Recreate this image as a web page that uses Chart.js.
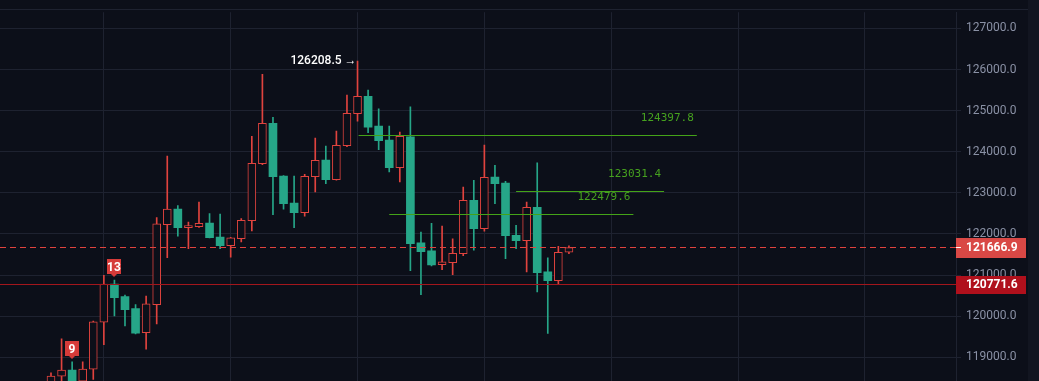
<!DOCTYPE html>
<html>
<head>
<meta charset="utf-8">
<script src="https://cdn.jsdelivr.net/npm/chart.js@4.4.0/dist/chart.umd.min.js"></script>
<style>
  html, body { margin: 0; padding: 0; background: #0c0f19; overflow: hidden; }
  #wrap { position: relative; width: 1039px; height: 381px; overflow: hidden; }
  canvas { display: block; }
  #topline { position: absolute; left: 0; top: 9px; width: 1039px; height: 1px; background: #1e2230; }
  #scroll { position: absolute; right: 0; top: 0; width: 11px; height: 381px; background: #121520; }
</style>
</head>
<body>
<div id="wrap">
  <canvas id="chart" width="1039" height="404"></canvas>
  <div id="topline"></div>
  <div id="scroll"></div>
</div>
<script>
// candles (index on the x axis), prices
var openP  = [118250, 118540, 118686, 118418, 118710, 119853, 120777, 120475, 120184, 119600,
              120281, 122226, 122607, 122153, 122177, 122267, 121926, 121715, 121885, 122323,
              123708, 124690, 123409, 122753, 122517, 123392, 123798, 123320, 124146, 124924,
              125347, 124625, 124284, 123611, 124365, 121781, 121586, 121253, 121302, 121520,
              122819, 122128, 123385, 123239, 121968, 121837, 122649, 121075, 120864, 121555];
var highP  = [118620, 119447, 118887, 118887, 119877, 120995, 120874, 120509, 120281, 120485,
              122396, 123896, 122687, 122291, 122777, 122493, 122486, 121920, 122371, 124375,
              125882, 124836, 123420, 123409, 123451, 124333, 124139, 124503, 125379, 126208.5,
              125500, 125045, 124625, 124479, 125094, 122048, 122260, 122194, 121878, 123142,
              123305, 124163, 123670, 123281, 122211, 122777, 123733, 121416, 121700, 121710];
var lowP   = [118150, 118250, 118250, 118250, 118457, 119308, 120006, 119763, 119568, 119196,
              119812, 121423, 121943, 121642, 122160, 121900, 121642, 121433, 121805, 122072,
              123684, 122469, 122600, 122153, 122430, 123020, 123222, 123310, 124122, 124746,
              124462, 124049, 123507, 123264, 121107, 120524, 121222, 121131, 121010, 121472,
              121603, 122065, 122736, 121399, 121642, 121075, 120589, 119576, 120791, 121520];
var closeP = [118540, 118686, 118400, 118710, 119860, 120777, 120451, 120159, 119585, 120298,
              122243, 122607, 122153, 122201, 122260, 121910, 121715, 121902, 122333, 123718,
              124690, 123392, 122736, 122517, 123402, 123791, 123320, 124156, 124934, 125347,
              124601, 124267, 123611, 124374, 121764, 121569, 121246, 121319, 121530, 122819,
              122128, 123378, 123222, 121958, 121837, 122649, 121059, 120864, 121555, 121666.9];

// price axis ticks
var yTicks = [119000, 120000, 121000, 122000, 123000, 124000, 125000, 126000, 127000];
// candles that carry a vertical grid line
var gridCandles = [5, 17, 29, 41, 53, 65, 77];

// horizontal levels drawn on the chart
var levelPrice = [124397.8, 123031.4, 122479.6];
var levelFrom  = [29.1, 44, 32];
var levelTo    = [61.1, 58, 55.1];

var lastPrice = 121666.9;
var refPrice = 120771.6;
var peakIndex = 29;
var markerIndex = [2, 6];
var markerText = ['9', '13'];

var BG = '#0c0f19';
var GRID = '#1e2230';
var UP = '#e0433e';
var DOWN = '#26a688';
var LEVEL = '#44a318';

var isUp = openP.map(function (o, i) { return closeP[i] >= o; });

var bodies = openP.map(function (o, i) { return { x: i, y: [o, closeP[i]] }; });
var wicks = lowP.map(function (l, i) { return { x: i, y: [l, highP[i]] }; });

var datasets = [
  {
    data: bodies,
    order: 1,
    barThickness: 8,
    grouped: false,
    borderSkipped: false,
    backgroundColor: function (c) { return isUp[c.dataIndex] ? BG : DOWN; },
    borderColor: function (c) { return isUp[c.dataIndex] ? UP : DOWN; },
    borderWidth: function (c) { return isUp[c.dataIndex] ? 1 : 0; }
  },
  {
    data: wicks,
    order: 2,
    barThickness: 1,
    grouped: false,
    backgroundColor: function (c) { return isUp[c.dataIndex] ? UP : DOWN; },
    borderWidth: 0
  }
];

function hline(ctx, x1, x2, y, color, dash) {
  ctx.strokeStyle = color;
  ctx.lineWidth = 1;
  ctx.setLineDash(dash || []);
  ctx.beginPath();
  ctx.moveTo(x1, Math.floor(y) + 0.5);
  ctx.lineTo(x2, Math.floor(y) + 0.5);
  ctx.stroke();
  ctx.setLineDash([]);
}

// level lines, labels, markers and price boxes on top of the candles
var overlay = {
  id: 'overlay',
  afterDatasetsDraw: function (chart) {
    var ctx = chart.ctx, xs = chart.scales.x, ys = chart.scales.y, a = chart.chartArea;
    ctx.save();
    ctx.beginPath();
    ctx.rect(a.left, a.top, a.right - a.left, a.bottom - a.top);
    ctx.clip();
    hline(ctx, a.left, a.right, ys.getPixelForValue(refPrice), '#a3161c');
    hline(ctx, a.left, a.right, ys.getPixelForValue(lastPrice), UP, [6, 4]);
    levelPrice.forEach(function (p, k) {
      hline(ctx, xs.getPixelForValue(levelFrom[k]), xs.getPixelForValue(levelTo[k]), ys.getPixelForValue(p), LEVEL);
    });

    ctx.font = '11px "DejaVu Sans Mono"';
    ctx.fillStyle = '#46a11f';
    ctx.textAlign = 'right';
    ctx.textBaseline = 'middle';
    levelPrice.forEach(function (p, k) {
      ctx.fillText(p.toFixed(1), xs.getPixelForValue(levelTo[k]) - 3, ys.getPixelForValue(p) - 17);
    });

    ctx.font = '500 12px Roboto';
    ctx.fillStyle = '#ffffff';
    ctx.fillText(highP[peakIndex].toFixed(1) + ' \u2192', xs.getPixelForValue(peakIndex) - 1, ys.getPixelForValue(highP[peakIndex]));

    ctx.font = 'bold 12px Roboto';
    ctx.textAlign = 'center';
    markerIndex.forEach(function (idx, k) {
      var cx = Math.round(xs.getPixelForValue(idx));
      var bottom = Math.round(ys.getPixelForValue(highP[idx])) - 6;
      var w = 14, h = 15;
      ctx.fillStyle = '#d63b39';
      ctx.fillRect(cx - w / 2, bottom - h, w, h);
      ctx.beginPath();
      ctx.moveTo(cx - 3, bottom);
      ctx.lineTo(cx + 3, bottom);
      ctx.lineTo(cx, bottom + 3);
      ctx.closePath();
      ctx.fill();
      ctx.fillStyle = '#ffffff';
      ctx.fillText(markerText[k], cx, bottom - h / 2 + 1);
    });
    ctx.restore();
  },
  afterDraw: function (chart) {
    var ctx = chart.ctx, ys = chart.scales.y;
    var left = chart.chartArea.right;
    ctx.save();
    ctx.textBaseline = 'middle';
    [[lastPrice, '#d94845', 20], [refPrice, '#b0101c', 18]].forEach(function (b) {
      var y = Math.floor(ys.getPixelForValue(b[0])) + 0.5;
      ctx.fillStyle = b[1];
      ctx.fillRect(left, Math.round(y - b[2] / 2), 70, b[2]);
      ctx.fillStyle = '#ffffff';
      ctx.font = 'bold 12px Roboto';
      ctx.textAlign = 'left';
      ctx.fillText(b[0].toFixed(1), left + 10, y);
    });
    ctx.fillStyle = '#ffffff';
    ctx.fillRect(left, Math.floor(ys.getPixelForValue(lastPrice)), 5, 1);
    ctx.restore();
  }
};

var ctx = document.getElementById('chart').getContext('2d');
var chart = new Chart(ctx, {
  type: 'bar',
  data: { datasets: datasets },
  plugins: [overlay],
  options: {
    responsive: false,
    animation: false,
    layout: { padding: { top: 10, bottom: 10, left: 0, right: 0 } },
    plugins: { legend: { display: false }, tooltip: { enabled: false } },
    scales: {
      x: {
        type: 'linear',
        min: -4.825,
        max: 85.62,
        offset: false,
        afterBuildTicks: function (s) { s.ticks = gridCandles.map(function (v) { return { value: v }; }); },
        ticks: { display: false },
        grid: { color: GRID, drawTicks: false, offset: false },
        border: { display: false }
      },
      y: {
        type: 'linear',
        position: 'right',
        min: 118158,
        max: 127396,
        afterBuildTicks: function (s) { s.ticks = yTicks.map(function (v) { return { value: v }; }); },
        afterFit: function (s) { s.width = 83; },
        ticks: {
          color: '#8a91a5',
          font: { family: 'Roboto', size: 12 },
          padding: 5,
          autoSkip: false,
          callback: function (v) { return Number(v).toFixed(1); }
        },
        grid: { color: GRID, tickLength: 5 },
        border: { color: GRID }
      }
    }
  }
});
</script>
</body>
</html>
